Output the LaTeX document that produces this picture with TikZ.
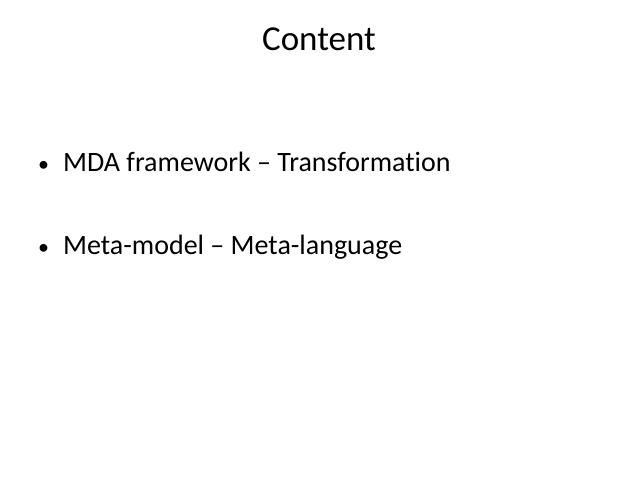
\documentclass[tikz,border=0pt]{standalone}
\usepackage{fontspec}
\setmainfont[Ligatures=NoCommon]{Carlito}
\begin{document}
\begin{tikzpicture}[x=1pt,y=1pt,yscale=-1]
\tikzset{bullettext/.style={anchor=base west,inner sep=0pt,font=\fontsize{28}{32}\selectfont}}
%Background
\useasboundingbox[fill=white] (0,0) rectangle (638,478);

% Title
\node (title) at (319,51) [anchor=base,inner sep=0pt,font=\fontsize{35}{40}\selectfont] {Content};

% Bullets
\node (dotA) at (38,172) [bullettext,font=\fontsize{22}{26}\selectfont] {•};
\node (itemA) at (63,172) [bullettext] {MDA framework – Transformation};
\node (dotB) at (38,255) [bullettext,font=\fontsize{22}{26}\selectfont] {•};
\node (itemB) at (63,255) [bullettext] {Meta-model – Meta-language};

\end{tikzpicture}
\end{document}
